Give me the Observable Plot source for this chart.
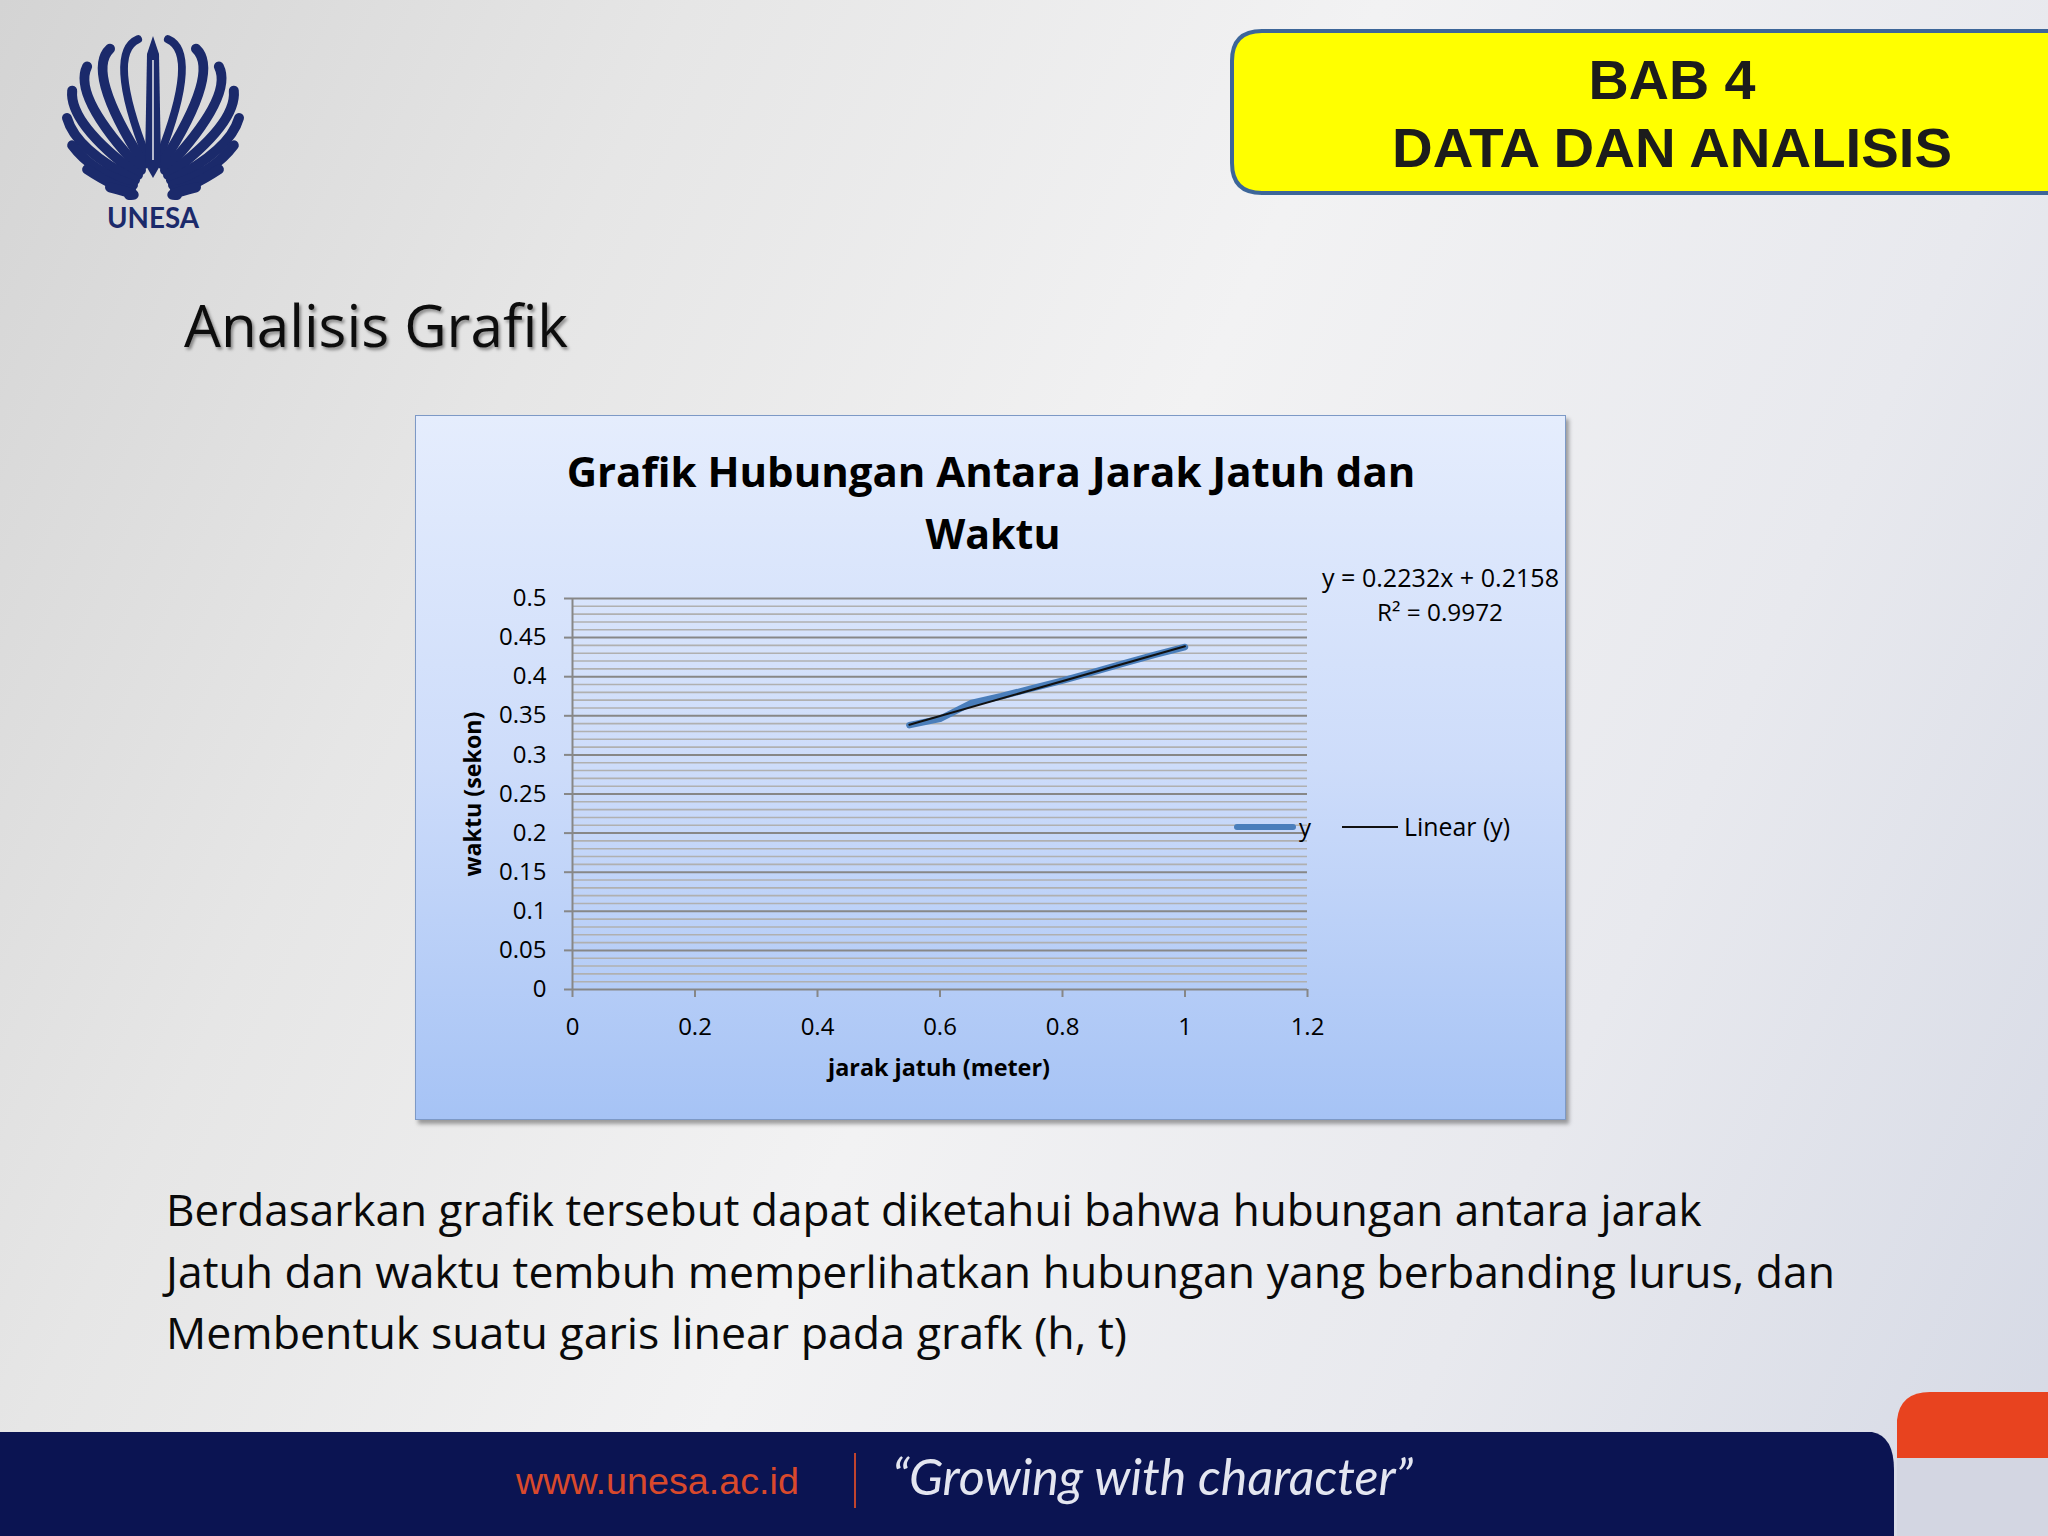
<!DOCTYPE html>
<html>
<head>
<meta charset="utf-8">
<script src="https://cdn.jsdelivr.net/npm/d3@7"></script>
<script src="https://cdn.jsdelivr.net/npm/@observablehq/plot@0.6"></script>
<style>
  html, body { margin: 0; padding: 0; }
  body { width: 2048px; height: 1536px; position: relative; overflow: hidden;
    background: linear-gradient(115deg, #d4d4d4 0%, #e6e6e6 25%, #f2f2f3 50%, #e8e9ee 75%, #d5d9e5 100%);
    font-family: "Open Sans", sans-serif; }
  #chartbox { position: absolute; left: 415px; top: 415px; width: 1149px; height: 703px;
    border: 1.5px solid #7d99c6;
    background: linear-gradient(to bottom, #e5edfd 0%, #cddcfa 50%, #a6c3f5 100%);
    box-shadow: 3px 4px 4px rgba(0,0,0,0.35); }
  #plot { position: absolute; left: 415px; top: 415px; }
  #plot svg { overflow: visible; background: transparent; }
  #overlay { position: absolute; left: 0; top: 0; pointer-events: none; }
</style>
</head>
<body>
<div id="chartbox"></div>
<div id="plot"></div>
<svg id="overlay" width="2048" height="1536" viewBox="0 0 2048 1536"></svg>
<script>
// ---------- data ----------
const dropHeight = [0.55, 0.60, 0.65, 0.70, 0.75, 0.80, 0.85, 0.90, 0.95, 1.00];   // jarak jatuh (m)
const fallTime   = [0.338, 0.346, 0.366, 0.375, 0.385, 0.395, 0.406, 0.417, 0.428, 0.438]; // waktu (s)
const trendSlope = 0.2232;
const trendIntercept = 0.2158;
const trendR2 = 0.9972;
const trendX = [0.55, 1.0];
const xTicks = [0, 0.2, 0.4, 0.6, 0.8, 1, 1.2];
const yTicks = [0, 0.05, 0.1, 0.15, 0.2, 0.25, 0.3, 0.35, 0.4, 0.45, 0.5];
const yMinorStep = 0.01;

const chartTitle = ["Grafik Hubungan Antara Jarak Jatuh dan", "Waktu"];
const xLabel = "jarak jatuh (meter)";
const yLabel = "waktu (sekon)";
const seriesName = "y";
const trendName = "Linear (y)";
const bodyLines = [
  "Berdasarkan grafik tersebut dapat diketahui bahwa hubungan antara jarak",
  "Jatuh dan waktu tembuh memperlihatkan hubungan yang berbanding lurus, dan",
  "Membentuk suatu garis linear pada grafk (h, t)"
];

// ---------- chart ----------
const points = dropHeight.map((x, i) => ({x, y: fallTime[i]}));
const trend = trendX.map(x => ({x, y: trendSlope * x + trendIntercept}));
const minorY = d3.range(0, 0.5 + 1e-9, yMinorStep).filter(v => !yTicks.some(t => Math.abs(t - v) < 1e-6));
const fmt = d => String(+d.toFixed(2));

const chart = Plot.plot({
  width: 1152, height: 706,
  marginLeft: 157, marginRight: 260, marginTop: 183, marginBottom: 132,
  style: {fontFamily: "'Open Sans', sans-serif", fontSize: "24px", background: "transparent", color: "black"},
  x: {domain: [0, 1.2]},
  y: {domain: [0, 0.5]},
  marks: [
    Plot.ruleY(minorY, {stroke: "#b0b0b0", strokeWidth: 1.6}),
    Plot.ruleY(yTicks, {stroke: "#878787", strokeWidth: 2}),
    Plot.ruleX([0], {stroke: "#878787", strokeWidth: 2}),
    Plot.axisY({ticks: yTicks, tickSize: 8, tickPadding: 18, tickFormat: fmt, stroke: "#878787", strokeWidth: 2, fill: "black", fontSize: 24, label: null}),
    Plot.axisX({ticks: xTicks, tickSize: 8, tickPadding: 20, tickFormat: fmt, stroke: "#878787", strokeWidth: 2, fill: "black", fontSize: 24, label: null}),
    Plot.line(points, {x: "x", y: "y", stroke: "#4a7ebb", strokeWidth: 6.5, strokeLinecap: "round", strokeLinejoin: "round"}),
    Plot.line(trend, {x: "x", y: "y", stroke: "#111", strokeWidth: 2})
  ]
});
document.getElementById("plot").appendChild(chart);

// ---------- slide overlay ----------
const svg = d3.select("#overlay");
const defs = svg.append("defs");
const sh = defs.append("filter").attr("id", "shadow").attr("x", "-10%").attr("y", "-10%").attr("width", "130%").attr("height", "140%");
sh.append("feDropShadow").attr("dx", 2).attr("dy", 2.5).attr("stdDeviation", 1.6).attr("flood-color", "#000").attr("flood-opacity", 0.4);

// logo (decorative): fan of curved feathers inside an oval, central monument
const navy = "#1b2a6b";
const logo = svg.append("g").attr("fill", "none").attr("stroke", navy).attr("stroke-linecap", "round");
const ell = (deg, k) => {
  const t = deg * Math.PI / 180;
  return [153 - 86 * k * Math.sin(t), 118 - 80 * k * Math.cos(t)];
};
const featherAngles = [10, 30, 50, 70, 90, 110, 130, 150];
const featherBases = [[147, 158], [144, 164], [141, 170], [138, 175], [135, 180], [133, 185], [131, 190], [129, 195]];
featherAngles.forEach((deg, i) => {
  const tip = ell(deg, 1);
  const ctrl = ell(deg + 24, 0.98);
  const base = featherBases[i];
  for (const m of [1, -1]) {
    const f = x => m === 1 ? x : 306 - x;
    logo.append("path")
      .attr("d", `M${f(base[0])},${base[1]} Q${f(ctrl[0])},${ctrl[1]} ${f(tip[0])},${tip[1]}`)
      .attr("stroke-width", i === 0 ? 8 : 10);
  }
});
svg.append("path").attr("d", "M153,36 L159,54 L161,164 L153,178 L145,164 L147,54 Z").attr("fill", navy);
svg.append("path").attr("d", "M153,60 L153,160").attr("stroke", "#e8e8ee").attr("stroke-width", 1.5);
svg.append("text").text("UNESA").attr("x", 153).attr("y", 228).attr("text-anchor", "middle")
  .attr("font-family", "Lato, sans-serif").attr("font-weight", 700).attr("font-size", 28).attr("fill", navy).attr("data-w", 92);

// yellow header
svg.append("path").attr("d", "M2060,31 L1262,31 Q1232,31 1232,61 L1232,163 Q1232,193 1262,193 L2060,193")
  .attr("fill", "#ffff00").attr("stroke", "#3d6699").attr("stroke-width", 4);
svg.append("text").text("BAB 4").attr("x", 1672).attr("y", 99).attr("text-anchor", "middle")
  .attr("font-family", "'Liberation Sans', Arial, sans-serif").attr("font-weight", 700).attr("font-size", 56).attr("fill", "#1c1c1c").attr("data-w", 167);
svg.append("text").text("DATA DAN ANALISIS").attr("x", 1672).attr("y", 167).attr("text-anchor", "middle")
  .attr("font-family", "'Liberation Sans', Arial, sans-serif").attr("font-weight", 700).attr("font-size", 56).attr("fill", "#1c1c1c").attr("data-w", 560);

// slide title
svg.append("text").text("Analisis Grafik").attr("x", 184).attr("y", 347)
  .attr("font-family", "'Open Sans', sans-serif").attr("font-size", 58).attr("fill", "#111").attr("filter", "url(#shadow)").attr("data-w", 384);

// chart title
svg.append("text").text(chartTitle[0]).attr("x", 991).attr("y", 487).attr("text-anchor", "middle")
  .attr("font-family", "'Open Sans', sans-serif").attr("font-weight", 700).attr("font-size", 44).attr("fill", "#000").attr("data-w", 849);
svg.append("text").text(chartTitle[1]).attr("x", 993).attr("y", 549).attr("text-anchor", "middle")
  .attr("font-family", "'Open Sans', sans-serif").attr("font-weight", 700).attr("font-size", 44).attr("fill", "#000").attr("data-w", 135);

// axis labels
svg.append("text").text(xLabel).attr("x", 939).attr("y", 1076).attr("text-anchor", "middle")
  .attr("font-family", "'Open Sans', sans-serif").attr("font-weight", 700).attr("font-size", 24).attr("fill", "#000").attr("data-w", 222);
svg.append("text").text(yLabel).attr("transform", "translate(481,794) rotate(-90)").attr("text-anchor", "middle")
  .attr("font-family", "'Open Sans', sans-serif").attr("font-weight", 700).attr("font-size", 24).attr("fill", "#000").attr("data-w", 165);

// trendline equation
svg.append("text").text(`y = ${trendSlope}x + ${trendIntercept}`).attr("x", 1322).attr("y", 587)
  .attr("font-family", "'Open Sans', sans-serif").attr("font-size", 24).attr("fill", "#000").attr("data-w", 237);
svg.append("text").text(`R² = ${trendR2}`).attr("x", 1440).attr("y", 621).attr("text-anchor", "middle")
  .attr("font-family", "'Open Sans', sans-serif").attr("font-size", 24).attr("fill", "#000").attr("data-w", 126);

// legend
svg.append("line").attr("x1", 1237).attr("x2", 1293).attr("y1", 827).attr("y2", 827)
  .attr("stroke", "#4a7ebb").attr("stroke-width", 6).attr("stroke-linecap", "round");
svg.append("text").text(seriesName).attr("x", 1299).attr("y", 836)
  .attr("font-family", "'Open Sans', sans-serif").attr("font-size", 24).attr("fill", "#000");
svg.append("line").attr("x1", 1342).attr("x2", 1398).attr("y1", 827).attr("y2", 827)
  .attr("stroke", "#111").attr("stroke-width", 2);
svg.append("text").text(trendName).attr("x", 1404).attr("y", 836)
  .attr("font-family", "'Open Sans', sans-serif").attr("font-size", 24).attr("fill", "#000").attr("data-w", 106);

// body text
const bodyY = [1226, 1288, 1349];
const bodyW = [1536, 1669, 961];
bodyLines.forEach((t, i) => {
  svg.append("text").text(t).attr("x", 166).attr("y", bodyY[i])
    .attr("font-family", "'Open Sans', sans-serif").attr("font-size", 44).attr("fill", "#0a0a0a").attr("data-w", bodyW[i]);
});

// footer
svg.append("path").attr("d", "M0,1432 L1872,1432 Q1894,1436 1894,1470 L1894,1536 L0,1536 Z").attr("fill", "#0b1452");
svg.append("path").attr("d", "M1897,1536 L1897,1458 L2048,1458 L2048,1536 Z").attr("fill", "#d3d6e2");
svg.append("path").attr("d", "M1897,1458 L1897,1420 Q1900,1392 1930,1392 L2048,1392 L2048,1458 Z").attr("fill", "#e8431f");
svg.append("text").text("www.unesa.ac.id").attr("x", 516).attr("y", 1494)
  .attr("font-family", "'Liberation Sans Narrow', 'Liberation Sans', sans-serif").attr("font-size", 34).attr("fill", "#d9492c").attr("data-w", 283);
svg.append("line").attr("x1", 855).attr("x2", 855).attr("y1", 1453).attr("y2", 1508).attr("stroke", "#c0442e").attr("stroke-width", 2);
svg.append("text").text("“Growing with character”").attr("x", 892).attr("y", 1495)
  .attr("font-family", "Lato, sans-serif").attr("font-style", "italic").attr("font-size", 40).attr("fill", "#e4e6f0").attr("data-w", 521);

// fit text widths to the measured reference widths
function fit() {
  document.querySelectorAll("#overlay text[data-w]").forEach(el => {
    const target = +el.getAttribute("data-w");
    const w = el.getComputedTextLength();
    const fs = +el.getAttribute("font-size");
    if (w > 0) el.setAttribute("font-size", (fs * target / w).toFixed(2));
  });
}
fit();
</script>
</body>
</html>
